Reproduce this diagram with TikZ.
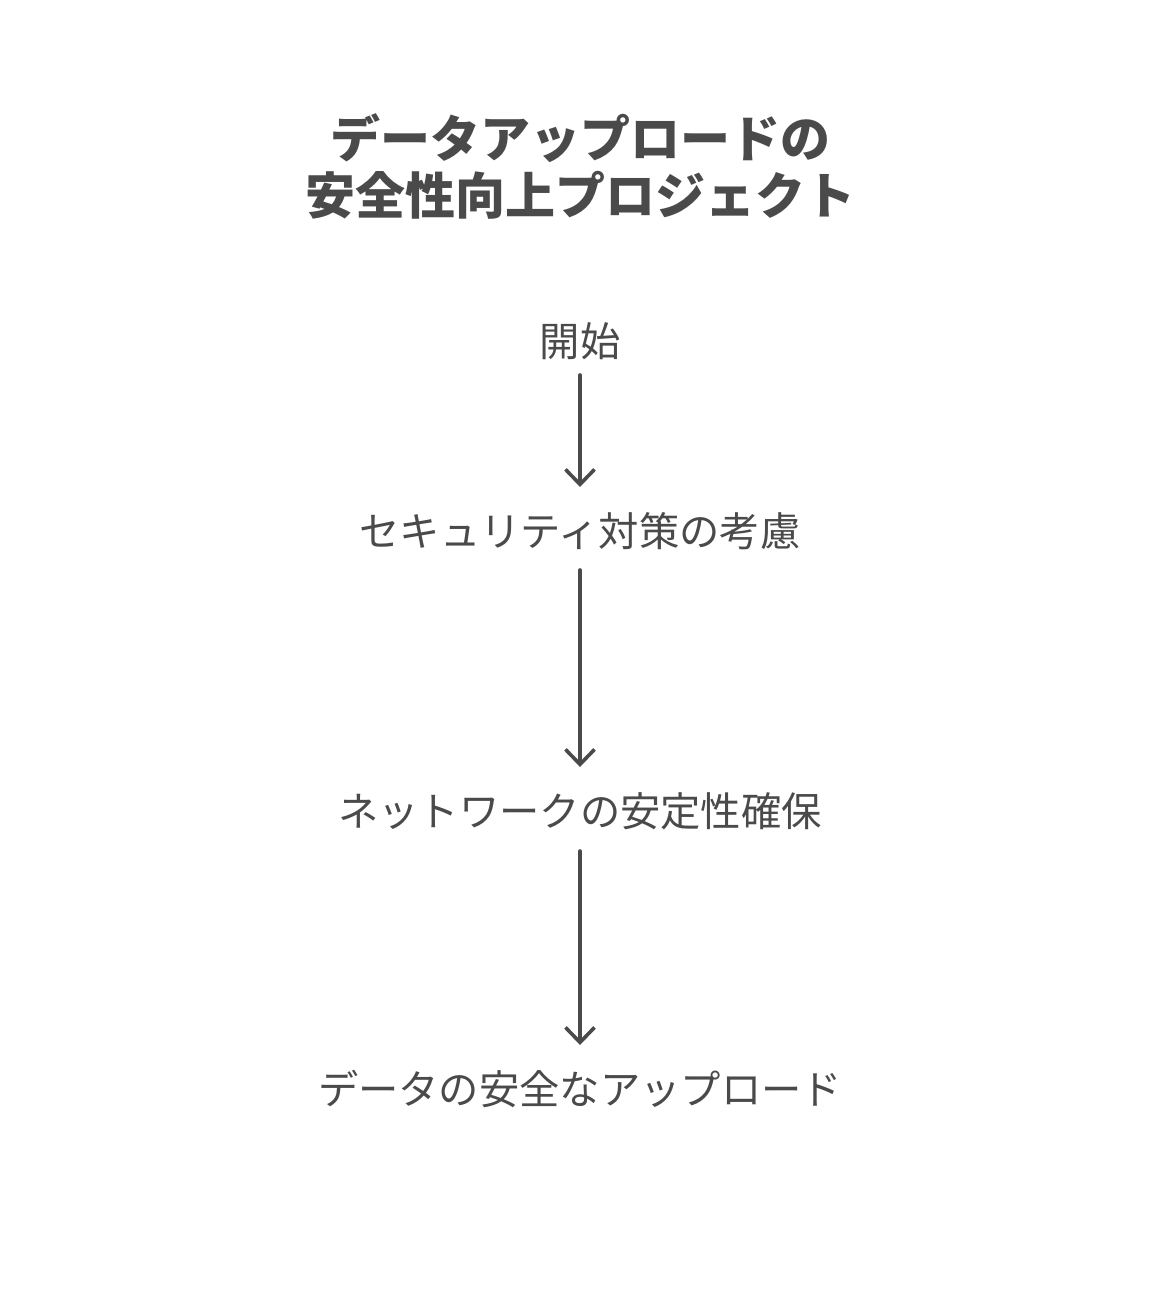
\documentclass[tikz,border=0pt]{standalone}
\usepackage{fontspec}
\setmainfont{Noto Sans CJK JP}
\usetikzlibrary{arrows.meta}
\definecolor{ink}{HTML}{4A4A4A}
\tikzset{
  lbl/.style={text=ink, inner sep=0pt, font=\fontsize{40.3pt}{48pt}\selectfont},
  ttl/.style={text=ink, inner sep=0pt, align=center, font=\fontsize{50pt}{57pt}\selectfont\bfseries},
  arr/.style={draw=ink, line width=3.6pt, line cap=round, -{Straight Barb[length=15pt,width=29pt,line width=3.6pt]}}
}
\begin{document}
\begin{tikzpicture}[x=1pt,y=-1pt]
\useasboundingbox[fill=white] (0,0) rectangle (1160,1304);
\node[ttl] (title) at (580,166.5) {データアップロードの\\安全性向上プロジェクト};
\node[lbl] (start) at (580,341) {開始};
\node[lbl] (sec) at (580,531) {セキュリティ対策の考慮};
\node[lbl] (net) at (580,811) {ネットワークの安定性確保};
\node[lbl] (up) at (580,1089) {データの安全なアップロード};
\draw[arr] ([yshift=-34pt]start.center) -- ([yshift=44pt]sec.center);
\draw[arr] ([yshift=-39pt]sec.center) -- ([yshift=44pt]net.center);
\draw[arr] ([yshift=-40pt]net.center) -- ([yshift=44pt]up.center);
\end{tikzpicture}
\end{document}
